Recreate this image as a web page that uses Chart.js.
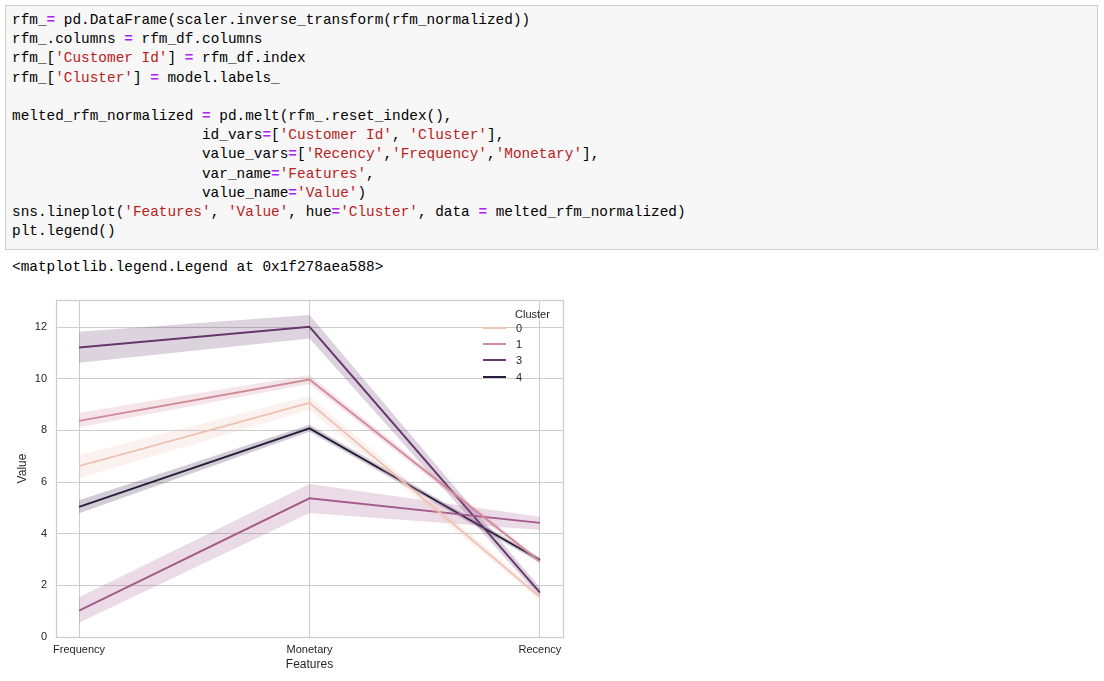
<!DOCTYPE html>
<html>
<head>
<meta charset="utf-8">
<script src="https://cdn.jsdelivr.net/npm/chart.js@4/dist/chart.umd.min.js"></script>
<style>
  html, body { margin: 0; padding: 0; background: #ffffff; }
  body { width: 1104px; height: 681px; position: relative; overflow: hidden; }
  .cell {
    position: absolute; left: 5px; top: 5px; width: 1091px; height: 243px;
    background: #f7f7f7; border: 1px solid #cfcfcf;
  }
  pre {
    margin: 0; font-family: "Liberation Mono", "DejaVu Sans Mono", monospace;
    font-size: 14.4px; line-height: 19.2px; color: #000;
  }
  .cell pre { position: absolute; left: 6px; top: 5px; }
  .s { color: #ba2121; }
  .o { color: #aa22ff; font-weight: bold; }
  .out { position: absolute; left: 12px; top: 258px; }
  #wrap { position: absolute; left: 0; top: 284px; width: 580px; height: 397px; }
  #wrap canvas { display: block; }
  .leg { position: absolute; font-family: "Liberation Sans", Arial, sans-serif; font-size: 11px; color: #262626; line-height: 12px; }
  .legline { position: absolute; height: 2px; width: 23px; }
</style>
</head>
<body>
<div class="cell"><pre>rfm_<span class="o">=</span> pd.DataFrame(scaler.inverse_transform(rfm_normalized))
rfm_.columns <span class="o">=</span> rfm_df.columns
rfm_[<span class="s">'Customer Id'</span>] <span class="o">=</span> rfm_df.index
rfm_[<span class="s">'Cluster'</span>] <span class="o">=</span> model.labels_

melted_rfm_normalized <span class="o">=</span> pd.melt(rfm_.reset_index(),
                      id_vars<span class="o">=</span>[<span class="s">'Customer Id'</span>, <span class="s">'Cluster'</span>],
                      value_vars<span class="o">=</span>[<span class="s">'Recency'</span>,<span class="s">'Frequency'</span>,<span class="s">'Monetary'</span>],
                      var_name<span class="o">=</span><span class="s">'Features'</span>,
                      value_name<span class="o">=</span><span class="s">'Value'</span>)
sns.lineplot(<span class="s">'Features'</span>, <span class="s">'Value'</span>, hue<span class="o">=</span><span class="s">'Cluster'</span>, data <span class="o">=</span> melted_rfm_normalized)
plt.legend()</pre></div>
<pre class="out">&lt;matplotlib.legend.Legend at 0x1f278aea588&gt;</pre>
<div id="wrap"><canvas id="c" width="580" height="397"></canvas></div>
<div id="legend"></div>
<script>
// ---- data ----
const features = ['Frequency', 'Monetary', 'Recency'];
const clusters = ['0', '1', '2', '3', '4'];
const legendClusters = ['0', '1', '3', '4'];
const yTicks = [0, 2, 4, 6, 8, 10, 12];

const mean0 = [6.62, 9.07, 1.55];
const lo0   = [6.15, 8.80, 1.42];
const hi0   = [7.05, 9.33, 1.68];

const mean1 = [8.37, 9.97, 2.92];
const lo1   = [8.12, 9.80, 2.82];
const hi1   = [8.68, 10.15, 3.02];

const mean2 = [1.02, 5.37, 4.42];
const lo2   = [0.55, 4.80, 4.14];
const hi2   = [1.54, 5.92, 4.66];

const mean3 = [11.21, 12.01, 1.72];
const lo3   = [10.62, 11.56, 1.55];
const hi3   = [11.82, 12.47, 1.92];

const mean4 = [5.04, 8.08, 2.98];
const lo4   = [4.79, 7.95, 2.88];
const hi4   = [5.30, 8.22, 3.08];

const colors = ['#efc3b5', '#d08a9c', '#a35a8c', '#65366b', '#2c1d3c'];
const means = [mean0, mean1, mean2, mean3, mean4];
const lows  = [lo0, lo1, lo2, lo3, lo4];
const highs = [hi0, hi1, hi2, hi3, hi4];

function pts(arr) { return arr.map((v, i) => ({ x: i, y: v })); }
function rgba(hex, a) {
  const n = parseInt(hex.slice(1), 16);
  return `rgba(${(n >> 16) & 255},${(n >> 8) & 255},${n & 255},${a})`;
}

const datasets = [];
clusters.forEach((c, k) => {
  datasets.push({ label: c + ' lo', data: pts(lows[k]), borderWidth: 0, pointRadius: 0, fill: false, borderColor: 'transparent' });
  datasets.push({ label: c + ' hi', data: pts(highs[k]), borderWidth: 0, pointRadius: 0, fill: '-1', borderColor: 'transparent', backgroundColor: rgba(colors[k], 0.22) });
  datasets.push({ label: c, data: pts(means[k]), borderWidth: 1.9, pointRadius: 0, fill: false, borderColor: colors[k] });
});

const frame = {
  id: 'frame',
  beforeDatasetsDraw(chart) {
    const a = chart.chartArea, ctx = chart.ctx;
    ctx.save();
    ctx.strokeStyle = '#cccccc';
    ctx.lineWidth = 1.25;
    ctx.strokeRect(Math.round(a.left) + 0.5, Math.round(a.top) + 0.5, Math.round(a.right - a.left), Math.round(a.bottom - a.top));
    ctx.restore();
  }
};

const font = { family: '"Liberation Sans", Arial, sans-serif', size: 11 };
new Chart(document.getElementById('c'), {
  type: 'line',
  data: { datasets },
  plugins: [frame],
  options: {
    responsive: false,
    animation: false,
    layout: { padding: { left: 0, right: 17, top: 16, bottom: 0 } },
    plugins: { legend: { display: false }, tooltip: { enabled: false } },
    elements: { line: { tension: 0 } },
    scales: {
      x: {
        type: 'linear', min: -0.1, max: 2.1,
        afterBuildTicks(s) { s.ticks = features.map((f, i) => ({ value: i })); },
        afterFit(s) { s.height = 44; },
        ticks: { callback: (v) => features[v], font, color: '#262626', padding: 6, autoSkip: false, maxRotation: 0 },
        grid: { color: '#cccccc', lineWidth: 1, drawTicks: false },
        border: { display: false },
        title: { display: true, text: 'Features', font: { family: font.family, size: 12 }, color: '#262626', padding: { top: 0, bottom: 9 } }
      },
      y: {
        min: 0, max: 13.05,
        afterBuildTicks(s) { s.ticks = yTicks.map(v => ({ value: v })); },
        afterFit(s) { s.width = 56; },
        ticks: { font, color: '#262626', padding: 9 },
        grid: { color: '#cccccc', lineWidth: 1, drawTicks: false },
        border: { display: false },
        title: { display: true, text: 'Value', font: { family: font.family, size: 12 }, color: '#262626', padding: { top: 15, bottom: 0 } }
      }
    }
  }
});

// legend (seaborn brief legend)
const leg = document.getElementById('legend');
const title = document.createElement('div');
title.className = 'leg';
title.style.left = '515px'; title.style.top = '308px';
title.textContent = 'Cluster';
leg.appendChild(title);
const legY = [328, 344, 360, 377];
legendClusters.forEach((c, i) => {
  const k = clusters.indexOf(c);
  const ln = document.createElement('div');
  ln.className = 'legline';
  ln.style.left = '483px'; ln.style.top = (legY[i] - 1) + 'px';
  ln.style.background = colors[k];
  leg.appendChild(ln);
  const t = document.createElement('div');
  t.className = 'leg';
  t.style.left = '516px'; t.style.top = (legY[i] - 6) + 'px';
  t.textContent = c;
  leg.appendChild(t);
});
</script>
</body>
</html>
